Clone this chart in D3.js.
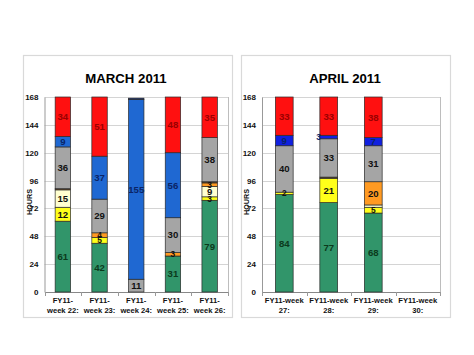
<!DOCTYPE html>
<html><head><meta charset="utf-8">
<script src="https://cdn.jsdelivr.net/npm/d3@7"></script>
<style>
body{margin:0;background:#fff}
svg{display:block}
text{font-family:"Liberation Sans",Arial,sans-serif;font-weight:bold}
</style>
</head><body>
<svg id="c" width="474" height="355"></svg>
<script>
// ---------- DATA ----------
const seriesKeys = ["green","yellow","cream","orange","brown","gray","blue","navy","red"];
const yTicks = [0,24,48,72,96,120,144,168];

const marchTitle = "MARCH 2011";
const marchCategories = ["FY11-\nweek 22:","FY11-\nweek 23:","FY11-\nweek 24:","FY11-\nweek 25:","FY11-\nweek 26:"];
const marchGreen  = [61,42,0,31,79];
const marchYellow = [12,5,0,0,3];
const marchCream  = [15,0,0,0,9];
const marchOrange = [0,4,0,3,3];
const marchBrown  = [1,0,0,0,1];
const marchGray   = [36,29,11,30,38];
const marchBlue   = [9,37,155,56,0];
const marchNavy   = [0,0,1,0,0];
const marchRed    = [34,51,0,48,35];

const aprilTitle = "APRIL 2011";
const aprilCategories = ["FY11-week\n27:","FY11-week\n28:","FY11-week\n29:","FY11-week\n30:"];
const aprilGreen  = [84,77,68,0];
const aprilYellow = [2,21,5,0];
const aprilCream  = [0,0,2,0];
const aprilOrange = [0,0,20,0];
const aprilBrown  = [0,1,0,0];
const aprilGray   = [40,33,31,0];
const aprilBlue   = [9,3,7,0];
const aprilNavy   = [0,0,0,0];
const aprilRed    = [33,33,38,0];

// ---------- STYLE ----------
const fillBase = {green:"#31956a",yellow:"#ffff1a",cream:"#ffffd0",orange:"#ff9a22",brown:"#6a4418",gray:"#a5a5a5",blue:"#1f68d2",navy:"#0a2a80",red:"#ff1010"};
const labelColor = {green:"#0b3a1c",yellow:"#111",cream:"#111",orange:"#111",brown:"#111",gray:"#111",blue:"#0a2466",navy:"#0a2466",red:"#9a0000"};

function rows(cats, arrs){
  return cats.map((c,i)=>{
    const r={cat:c};
    seriesKeys.forEach((k,j)=>r[k]=arrs[j][i]);
    return r;
  });
}

const svg = d3.select("#c");

function drawPanel(cfg){
  const g = svg.append("g");
  g.append("rect").attr("x",cfg.px+0.5).attr("y",55.5).attr("width",cfg.pw).attr("height",262)
    .attr("fill","#fff").attr("stroke","#d9d9d9").attr("stroke-width",1.2);
  g.append("text").attr("x",cfg.tx).attr("y",83).attr("text-anchor","middle")
    .attr("font-size",13.2).attr("fill","#000").text(cfg.title);

  const y = d3.scaleLinear().domain([0,168]).range([292,97]).clamp(true);
  const x = d3.scaleBand().domain(cfg.data.map(d=>d.cat)).range([cfg.x0,cfg.x1])
    .paddingInner(cfg.pad).paddingOuter(cfg.pad/2);

  g.append("g").selectAll("line").data(yTicks.filter(t=>t>0)).join("line")
    .attr("x1",cfg.x0).attr("x2",cfg.x1).attr("y1",d=>Math.round(y(d))+0.5).attr("y2",d=>Math.round(y(d))+0.5)
    .attr("stroke","#d4d4d4").attr("stroke-width",1);
  g.append("line").attr("x1",cfg.x1+0.5).attr("x2",cfg.x1+0.5).attr("y1",y(168)).attr("y2",y(0))
    .attr("stroke","#bdbdbd");

  const ya = g.append("g").attr("transform",`translate(${cfg.x0},0)`)
    .call(d3.axisLeft(y).tickValues(yTicks).tickSize(0).tickPadding(6));
  ya.select(".domain").attr("stroke","#999");
  ya.selectAll("text").attr("font-size",8).attr("font-weight","bold").attr("fill","#111")
    .attr("font-family",'"Liberation Sans",Arial,sans-serif');

  const xa = g.append("g").attr("transform",`translate(0,${y(0)})`)
    .call(d3.axisBottom(x).tickSize(0).tickFormat(""));
  xa.select(".domain").attr("stroke","#888");
  const step = x.step();
  g.append("g").selectAll("line").data(d3.range(cfg.data.length+1)).join("line")
    .attr("x1",i=>Math.round(cfg.x0+i*step)+0.5).attr("x2",i=>Math.round(cfg.x0+i*step)+0.5)
    .attr("y1",y(0)).attr("y2",y(0)+4).attr("stroke","#999");

  cfg.data.forEach(d=>{
    const lines = d.cat.split("\n");
    const t = g.append("text").attr("text-anchor","middle").attr("font-size",7.6).attr("fill","#111");
    lines.forEach((ln,i)=>t.append("tspan").attr("x",x(d.cat)+x.bandwidth()/2).attr("y",303+i*9.5).text(ln));
  });

  g.append("text").attr("transform",`translate(${cfg.hx},202) rotate(-90)`).attr("text-anchor","middle")
    .attr("font-size",7.2).attr("fill","#111").text("HOURS");

  const stack = d3.stack().keys(seriesKeys)(cfg.data);
  const colors = Object.assign({}, fillBase, cfg.colorOverride||{});
  stack.forEach(layer=>{
    const k = layer.key;
    g.append("g").selectAll("rect").data(layer.filter(s=>s[1]-s[0]>0)).join("rect")
      .attr("x",s=>x(s.data.cat)).attr("width",x.bandwidth())
      .attr("y",s=>y(s[1])).attr("height",s=>Math.max(0,y(s[0])-y(s[1])))
      .attr("fill",colors[k]).attr("stroke","#2a2a2a").attr("stroke-width",0.7);
  });
  stack.forEach(layer=>{
    const k = layer.key;
    layer.forEach(s=>{
      const v = s[1]-s[0];
      if (v < 2 || (k==="cream" && v<3)) return;
      const cy = (y(s[0])+y(s[1]))/2;
      let cx = x(s.data.cat)+x.bandwidth()/2, anchor="middle";
      if (k==="blue" && v<5){ cx = x(s.data.cat)+1; anchor="end"; }
      const fs = v <= 5 ? 8.4 : 9.6;
      g.append("text").attr("x",cx).attr("y",cy+fs*0.35).attr("text-anchor",anchor)
        .attr("font-size",fs).attr("fill",labelColor[k]).text(v);
    });
  });
}

drawPanel({
  title:marchTitle, px:23, pw:209, tx:126, x0:44.5, x1:228, pad:0.58, hx:32,
  data: rows(marchCategories,[marchGreen,marchYellow,marchCream,marchOrange,marchBrown,marchGray,marchBlue,marchNavy,marchRed])
});
drawPanel({
  title:aprilTitle, px:241, pw:209, tx:345, x0:262, x1:440, pad:0.6, hx:249,
  colorOverride:{blue:"#1020e0"},
  data: rows(aprilCategories,[aprilGreen,aprilYellow,aprilCream,aprilOrange,aprilBrown,aprilGray,aprilBlue,aprilNavy,aprilRed])
});
</script>
</body></html>
